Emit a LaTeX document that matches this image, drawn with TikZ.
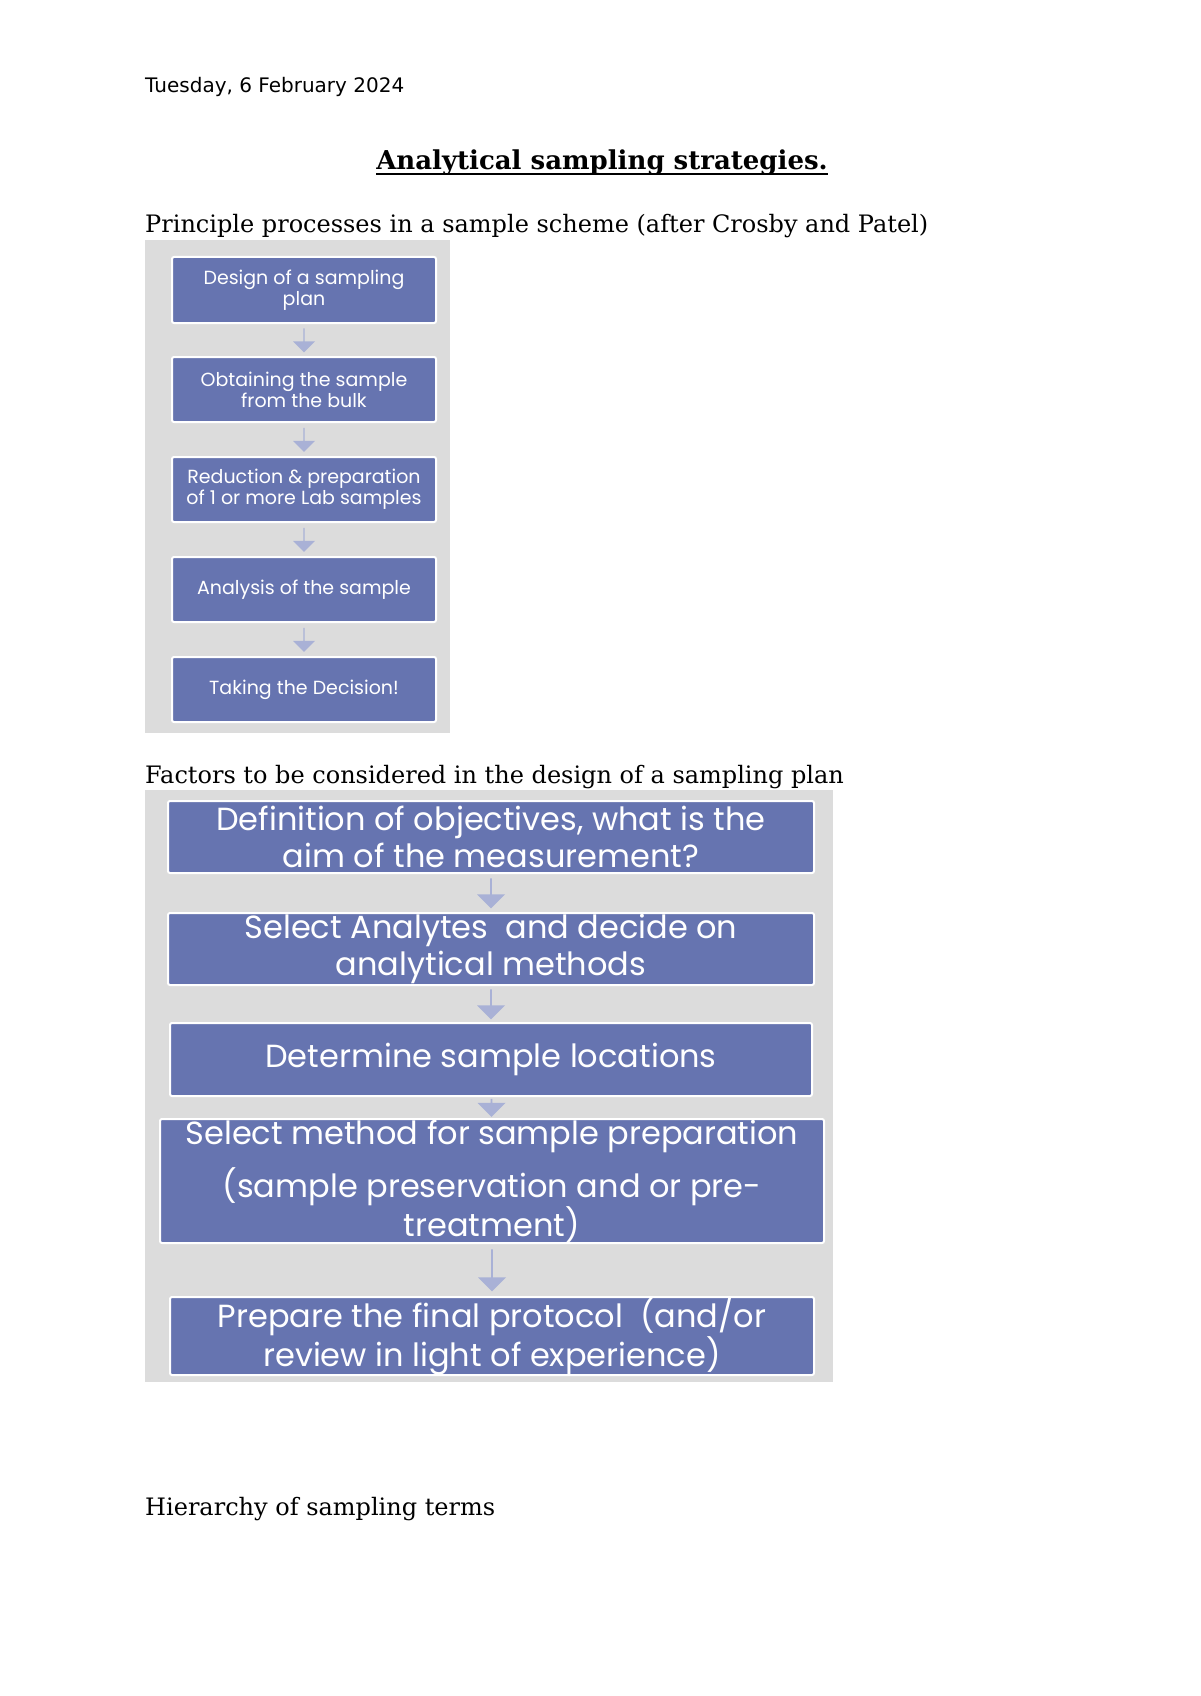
\documentclass[tikz,border=0pt]{standalone}
\usepackage{fontspec}
\setmainfont{DejaVu Serif}
\newfontfamily\boxfont{Poppins}
\newfontfamily\datefont{DejaVu Sans}
\usetikzlibrary{shapes.arrows}
\definecolor{boxblue}{HTML}{6674B0}
\definecolor{panelgray}{HTML}{DCDCDC}
\definecolor{arrowblue}{HTML}{A9B1D6}
\tikzset{
  sbox/.style={fill=boxblue,draw=white,line width=2pt,rounded corners=2pt,text=white,align=center,font=\boxfont\fontsize{19}{21}\selectfont,anchor=north west,inner sep=0pt},
  bbox/.style={sbox,font=\boxfont\fontsize{32}{37}\selectfont},
  darr/.style={single arrow,shape border rotate=270,fill=arrowblue,draw=none,minimum width=22pt,single arrow head extend=3pt,inner sep=0pt},
  body/.style={anchor=base west,inner sep=0pt,font=\fontsize{24}{28}\selectfont}
}
\begin{document}
\begin{tikzpicture}[x=1pt,y=-1pt]
\fill[white] (0,0) rectangle (1200,1696);
\node[anchor=base west,inner sep=0pt,font=\datefont\fontsize{20}{24}\selectfont] (date) at (145,93) {Tuesday, 6 February 2024};
\node[anchor=base,inner sep=0pt,font=\bfseries\fontsize{26}{30}\selectfont] (title) at (602,170) {Analytical sampling strategies.};
\draw[line width=1.5pt] ([yshift=-4pt]title.base west) -- ([yshift=-4pt]title.base east);
\node[body] (p1) at (145,233) {Principle processes in a sample scheme (after Crosby and Patel)};
\fill[panelgray] (145,240) rectangle (450,733);
\node[sbox,minimum width=264pt,minimum height=66pt] (a1) at (171,256) {Design of a sampling\\plan};
\node[sbox,minimum width=264pt,minimum height=65pt] (a2) at (171,356) {Obtaining the sample\\from the bulk};
\node[sbox,minimum width=264pt,minimum height=65pt] (a3) at (171,456) {Reduction \& preparation\\of 1 or more Lab samples};
\node[sbox,minimum width=264pt,minimum height=65pt] (a4) at (171,556) {Analysis of the sample};
\node[sbox,minimum width=264pt,minimum height=65pt] (a5) at (171,656) {Taking the Decision!};
\foreach \u/\v in {a1/a2,a2/a3,a3/a4,a4/a5}{
  \path (\u.south) -- (\v.north) node[midway,darr,minimum height=24pt] {};
}
\node[body] (p2) at (145,783) {Factors to be considered in the design of a sampling plan};
\fill[panelgray] (145,790) rectangle (833,1382);
\node[bbox,minimum width=646pt,minimum height=72pt] (b1) at (167,800) {Definition of objectives, what is the\\aim of the measurement?};
\node[bbox,minimum width=646pt,minimum height=72pt] (b2) at (167,912) {Select Analytes\ \ and decide on\\analytical methods};
\node[bbox,minimum width=642pt,minimum height=73pt] (b3) at (169,1022) {Determine sample locations};
\node[bbox,minimum width=664pt,minimum height=124pt,font=\boxfont\fontsize{32}{36}\selectfont] (b4) at (159,1118) {Select method for sample preparation\\[14pt](sample preservation and or pre-\\treatment)};
\node[bbox,minimum width=644pt,minimum height=76pt] (b5) at (169,1296) {Prepare the final protocol\ \ (and/or\\review in light of experience)};
\path (b1.south) -- (b2.north) node[midway,darr,minimum height=30pt,minimum width=28pt] {};
\path (b2.south) -- (b3.north) node[midway,darr,minimum height=30pt,minimum width=28pt] {};
\path (b3.south) -- (b4.north) node[midway,darr,minimum height=18pt,minimum width=28pt] {};
\path (b4.south) -- (b5.north) node[midway,darr,minimum height=42pt,minimum width=28pt] {};
\node[body] (p3) at (145,1515) {Hierarchy of sampling terms};
\end{tikzpicture}
\end{document}
